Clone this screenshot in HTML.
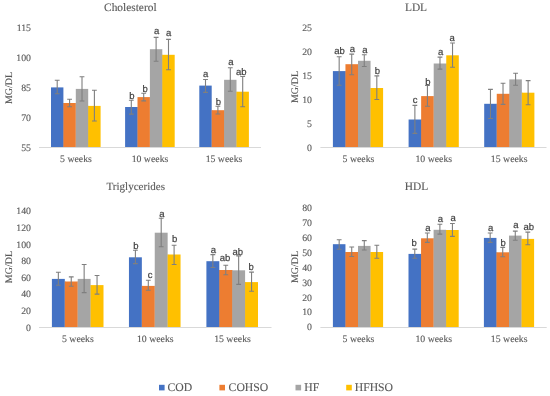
<!DOCTYPE html>
<html><head><meta charset="utf-8"><style>
html,body{margin:0;padding:0;background:#fff;}
body{width:550px;height:396px;overflow:hidden;font-family:"Liberation Serif", serif;}
svg{display:block;}
text{text-rendering:geometricPrecision;font-family:"Liberation Serif",serif;fill:#595959;stroke:#595959;stroke-width:0.12;}
.t{font-size:11.4px;text-anchor:middle;}
.k{font-size:9.8px;text-anchor:end;}
.y{font-size:10px;text-anchor:middle;}
.x{font-size:9.8px;text-anchor:middle;}
.l{font-size:11.7px;}
.d{font-family:"Liberation Sans",sans-serif;font-size:9.5px;fill:#404040;stroke:#404040;stroke-width:0.2;text-anchor:middle;}
</style></head><body>
<svg width="550" height="396" viewBox="0 0 550 396" style="will-change:transform;filter:blur(0.3px)">
<rect width="550" height="396" fill="#fff"/>
<rect x="39" y="147" width="222" height="1" fill="#D9D9D9"/>
<text x="130.3" y="10.9" class="t">Cholesterol</text>
<text x="31" y="30.81" class="k">115</text>
<text x="31" y="60.81" class="k">100</text>
<text x="31" y="90.81" class="k">85</text>
<text x="31" y="120.81" class="k">70</text>
<text x="31" y="150.81" class="k">55</text>
<text transform="translate(12,88) rotate(-90)" class="y">MG/DL</text>
<text x="76" y="162.3" class="x">5 weeks</text>
<text x="150" y="162.3" class="x">10 weeks</text>
<text x="224" y="162.3" class="x">15 weeks</text>
<rect x="51" y="87.4" width="12.4" height="59.6" fill="#4472C4"/>
<rect x="63.3" y="103" width="0.8" height="44" fill="#4472C4"/>
<rect x="63.4" y="103" width="12.4" height="44" fill="#ED7D31"/>
<rect x="75.7" y="103" width="0.8" height="44" fill="#ED7D31"/>
<rect x="75.8" y="88.9" width="12.4" height="58.1" fill="#A5A5A5"/>
<rect x="88.1" y="105.9" width="0.8" height="41.1" fill="#A5A5A5"/>
<rect x="88.2" y="105.9" width="12.4" height="41.1" fill="#FFC000"/>
<rect x="125.1" y="107" width="12.4" height="40" fill="#4472C4"/>
<rect x="137.4" y="107" width="0.8" height="40" fill="#4472C4"/>
<rect x="137.5" y="97.1" width="12.4" height="49.9" fill="#ED7D31"/>
<rect x="149.8" y="97.1" width="0.8" height="49.9" fill="#ED7D31"/>
<rect x="149.9" y="49.2" width="12.4" height="97.8" fill="#A5A5A5"/>
<rect x="162.2" y="54.8" width="0.8" height="92.2" fill="#A5A5A5"/>
<rect x="162.3" y="54.8" width="12.4" height="92.2" fill="#FFC000"/>
<rect x="199.3" y="85.6" width="12.4" height="61.4" fill="#4472C4"/>
<rect x="211.6" y="110.2" width="0.8" height="36.8" fill="#4472C4"/>
<rect x="211.7" y="110.2" width="12.4" height="36.8" fill="#ED7D31"/>
<rect x="224" y="110.2" width="0.8" height="36.8" fill="#ED7D31"/>
<rect x="224.1" y="79.8" width="12.4" height="67.2" fill="#A5A5A5"/>
<rect x="236.4" y="91.7" width="0.8" height="55.3" fill="#A5A5A5"/>
<rect x="236.5" y="91.7" width="12.4" height="55.3" fill="#FFC000"/>
<path d="M57.2 80.3V93.8M54.8 80.3H59.6M54.8 93.8H59.6" stroke="#7F7F7F" stroke-width="1.1" fill="none"/>
<path d="M69.6 99.2V106.8M67.2 99.2H72M67.2 106.8H72" stroke="#7F7F7F" stroke-width="1.1" fill="none"/>
<path d="M82 76.8V101M79.6 76.8H84.4M79.6 101H84.4" stroke="#7F7F7F" stroke-width="1.1" fill="none"/>
<path d="M94.4 90.2V121M92 90.2H96.8M92 121H96.8" stroke="#7F7F7F" stroke-width="1.1" fill="none"/>
<path d="M131.3 100.2V114.1M128.9 100.2H133.7M128.9 114.1H133.7" stroke="#7F7F7F" stroke-width="1.1" fill="none"/>
<text x="131.8" y="98.5" class="d">b</text>
<path d="M143.7 93.3V100.9M141.3 93.3H146.1M141.3 100.9H146.1" stroke="#7F7F7F" stroke-width="1.1" fill="none"/>
<text x="145.1" y="91.9" class="d">b</text>
<path d="M156.1 37.4V61.2M153.7 37.4H158.5M153.7 61.2H158.5" stroke="#7F7F7F" stroke-width="1.1" fill="none"/>
<text x="156.7" y="34" class="d">a</text>
<path d="M168.5 39.4V69.7M166.1 39.4H170.9M166.1 69.7H170.9" stroke="#7F7F7F" stroke-width="1.1" fill="none"/>
<text x="168.6" y="35.9" class="d">a</text>
<path d="M205.5 79.5V92.4M203.1 79.5H207.9M203.1 92.4H207.9" stroke="#7F7F7F" stroke-width="1.1" fill="none"/>
<text x="205.6" y="77.2" class="d">a</text>
<path d="M217.9 106.2V114M215.5 106.2H220.3M215.5 114H220.3" stroke="#7F7F7F" stroke-width="1.1" fill="none"/>
<text x="218.4" y="105.2" class="d">b</text>
<path d="M230.3 67.7V91.2M227.9 67.7H232.7M227.9 91.2H232.7" stroke="#7F7F7F" stroke-width="1.1" fill="none"/>
<text x="230.9" y="65.2" class="d">a</text>
<path d="M242.7 76.5V106.8M240.3 76.5H245.1M240.3 106.8H245.1" stroke="#7F7F7F" stroke-width="1.1" fill="none"/>
<text x="241.3" y="75" class="d">ab</text>
<rect x="320.4" y="147" width="226.1" height="1" fill="#D9D9D9"/>
<text x="416" y="10.9" class="t">LDL</text>
<text x="312" y="30.91" class="k">25</text>
<text x="312" y="54.81" class="k">20</text>
<text x="312" y="78.81" class="k">15</text>
<text x="312" y="102.81" class="k">10</text>
<text x="312" y="126.81" class="k">5</text>
<text x="312" y="150.81" class="k">0</text>
<text transform="translate(298.1,87) rotate(-90)" class="y">MG/DL</text>
<text x="358.5" y="162.3" class="x">5 weeks</text>
<text x="433.8" y="162.3" class="x">10 weeks</text>
<text x="509.2" y="162.3" class="x">15 weeks</text>
<rect x="332.9" y="71.1" width="12.55" height="75.9" fill="#4472C4"/>
<rect x="345.35" y="71.1" width="0.8" height="75.9" fill="#4472C4"/>
<rect x="345.45" y="64.2" width="12.55" height="82.8" fill="#ED7D31"/>
<rect x="357.9" y="64.2" width="0.8" height="82.8" fill="#ED7D31"/>
<rect x="358" y="60.8" width="12.55" height="86.2" fill="#A5A5A5"/>
<rect x="370.45" y="88" width="0.8" height="59" fill="#A5A5A5"/>
<rect x="370.55" y="88" width="12.55" height="59" fill="#FFC000"/>
<rect x="408.6" y="119.5" width="12.55" height="27.5" fill="#4472C4"/>
<rect x="421.05" y="119.5" width="0.8" height="27.5" fill="#4472C4"/>
<rect x="421.15" y="96.1" width="12.55" height="50.9" fill="#ED7D31"/>
<rect x="433.6" y="96.1" width="0.8" height="50.9" fill="#ED7D31"/>
<rect x="433.7" y="63.5" width="12.55" height="83.5" fill="#A5A5A5"/>
<rect x="446.15" y="63.5" width="0.8" height="83.5" fill="#A5A5A5"/>
<rect x="446.25" y="55.3" width="12.55" height="91.7" fill="#FFC000"/>
<rect x="484.2" y="103.8" width="12.55" height="43.2" fill="#4472C4"/>
<rect x="496.65" y="103.8" width="0.8" height="43.2" fill="#4472C4"/>
<rect x="496.75" y="93.8" width="12.55" height="53.2" fill="#ED7D31"/>
<rect x="509.2" y="93.8" width="0.8" height="53.2" fill="#ED7D31"/>
<rect x="509.3" y="79.4" width="12.55" height="67.6" fill="#A5A5A5"/>
<rect x="521.75" y="92.7" width="0.8" height="54.3" fill="#A5A5A5"/>
<rect x="521.85" y="92.7" width="12.55" height="54.3" fill="#FFC000"/>
<path d="M339.17 56.7V85.2M336.77 56.7H341.57M336.77 85.2H341.57" stroke="#7F7F7F" stroke-width="1.1" fill="none"/>
<text x="339.47" y="53.6" class="d">ab</text>
<path d="M351.72 54.1V74.8M349.32 54.1H354.12M349.32 74.8H354.12" stroke="#7F7F7F" stroke-width="1.1" fill="none"/>
<text x="352.32" y="51.8" class="d">a</text>
<path d="M364.27 54.7V66.5M361.88 54.7H366.67M361.88 66.5H366.67" stroke="#7F7F7F" stroke-width="1.1" fill="none"/>
<text x="364.88" y="52.6" class="d">a</text>
<path d="M376.82 75.9V99.5M374.43 75.9H379.22M374.43 99.5H379.22" stroke="#7F7F7F" stroke-width="1.1" fill="none"/>
<text x="377.32" y="74.4" class="d">b</text>
<path d="M414.88 105.4V133.4M412.48 105.4H417.27M412.48 133.4H417.27" stroke="#7F7F7F" stroke-width="1.1" fill="none"/>
<text x="415.18" y="103.1" class="d">c</text>
<path d="M427.43 85.5V106.2M425.03 85.5H429.82M425.03 106.2H429.82" stroke="#7F7F7F" stroke-width="1.1" fill="none"/>
<text x="427.93" y="84.8" class="d">b</text>
<path d="M439.98 57.1V69.1M437.58 57.1H442.38M437.58 69.1H442.38" stroke="#7F7F7F" stroke-width="1.1" fill="none"/>
<text x="440.58" y="54.6" class="d">a</text>
<path d="M452.53 43V67.2M450.13 43H454.93M450.13 67.2H454.93" stroke="#7F7F7F" stroke-width="1.1" fill="none"/>
<text x="452.23" y="41.1" class="d">a</text>
<path d="M490.47 89.4V118.5M488.07 89.4H492.87M488.07 118.5H492.87" stroke="#7F7F7F" stroke-width="1.1" fill="none"/>
<path d="M503.02 83.3V104.4M500.62 83.3H505.42M500.62 104.4H505.42" stroke="#7F7F7F" stroke-width="1.1" fill="none"/>
<path d="M515.58 73.3V85.2M513.18 73.3H517.98M513.18 85.2H517.98" stroke="#7F7F7F" stroke-width="1.1" fill="none"/>
<path d="M528.12 80.6V104.8M525.73 80.6H530.52M525.73 104.8H530.52" stroke="#7F7F7F" stroke-width="1.1" fill="none"/>
<rect x="39" y="327" width="232.5" height="1" fill="#D9D9D9"/>
<text x="135.7" y="190.3" class="t" style="font-size:11.05px">Triglycerides</text>
<text x="31" y="214.41" class="k">140</text>
<text x="31" y="231.03" class="k">120</text>
<text x="31" y="247.64" class="k">100</text>
<text x="31" y="264.26" class="k">80</text>
<text x="31" y="280.87" class="k">60</text>
<text x="31" y="297.48" class="k">40</text>
<text x="31" y="314.1" class="k">20</text>
<text x="31" y="330.71" class="k">0</text>
<text transform="translate(12.2,267.1) rotate(-90)" class="y">MG/DL</text>
<text x="77.9" y="342" class="x">5 weeks</text>
<text x="155.3" y="342" class="x">10 weeks</text>
<text x="232.5" y="342" class="x">15 weeks</text>
<rect x="51.9" y="278.9" width="12.9" height="48.1" fill="#4472C4"/>
<rect x="64.7" y="281.5" width="0.8" height="45.5" fill="#4472C4"/>
<rect x="64.8" y="281.5" width="12.9" height="45.5" fill="#ED7D31"/>
<rect x="77.6" y="281.5" width="0.8" height="45.5" fill="#ED7D31"/>
<rect x="77.7" y="278.9" width="12.9" height="48.1" fill="#A5A5A5"/>
<rect x="90.5" y="285.1" width="0.8" height="41.9" fill="#A5A5A5"/>
<rect x="90.6" y="285.1" width="12.9" height="41.9" fill="#FFC000"/>
<rect x="128.95" y="257.3" width="12.9" height="69.7" fill="#4472C4"/>
<rect x="141.75" y="285.9" width="0.8" height="41.1" fill="#4472C4"/>
<rect x="141.85" y="285.9" width="12.9" height="41.1" fill="#ED7D31"/>
<rect x="154.65" y="285.9" width="0.8" height="41.1" fill="#ED7D31"/>
<rect x="154.75" y="232.7" width="12.9" height="94.3" fill="#A5A5A5"/>
<rect x="167.55" y="254.5" width="0.8" height="72.5" fill="#A5A5A5"/>
<rect x="167.65" y="254.5" width="12.9" height="72.5" fill="#FFC000"/>
<rect x="206.4" y="261.2" width="12.9" height="65.8" fill="#4472C4"/>
<rect x="219.2" y="270" width="0.8" height="57" fill="#4472C4"/>
<rect x="219.3" y="270" width="12.9" height="57" fill="#ED7D31"/>
<rect x="232.1" y="270.3" width="0.8" height="56.7" fill="#ED7D31"/>
<rect x="232.2" y="270.3" width="12.9" height="56.7" fill="#A5A5A5"/>
<rect x="245" y="282.1" width="0.8" height="44.9" fill="#A5A5A5"/>
<rect x="245.1" y="282.1" width="12.9" height="44.9" fill="#FFC000"/>
<path d="M58.35 272.2V285.3M55.95 272.2H60.75M55.95 285.3H60.75" stroke="#7F7F7F" stroke-width="1.1" fill="none"/>
<path d="M71.25 276.9V286.3M68.85 276.9H73.65M68.85 286.3H73.65" stroke="#7F7F7F" stroke-width="1.1" fill="none"/>
<path d="M84.15 264.5V292.6M81.75 264.5H86.55M81.75 292.6H86.55" stroke="#7F7F7F" stroke-width="1.1" fill="none"/>
<path d="M97.05 275.5V294.1M94.65 275.5H99.45M94.65 294.1H99.45" stroke="#7F7F7F" stroke-width="1.1" fill="none"/>
<path d="M135.4 250.2V263.6M133 250.2H137.8M133 263.6H137.8" stroke="#7F7F7F" stroke-width="1.1" fill="none"/>
<text x="135.9" y="249.4" class="d">b</text>
<path d="M148.3 280.3V290.2M145.9 280.3H150.7M145.9 290.2H150.7" stroke="#7F7F7F" stroke-width="1.1" fill="none"/>
<text x="150.2" y="278.3" class="d">c</text>
<path d="M161.2 218.3V246.7M158.8 218.3H163.6M158.8 246.7H163.6" stroke="#7F7F7F" stroke-width="1.1" fill="none"/>
<text x="161.8" y="217.1" class="d">a</text>
<path d="M174.1 245.2V264.5M171.7 245.2H176.5M171.7 264.5H176.5" stroke="#7F7F7F" stroke-width="1.1" fill="none"/>
<text x="174.6" y="241.8" class="d">b</text>
<path d="M212.85 254.6V267.5M210.45 254.6H215.25M210.45 267.5H215.25" stroke="#7F7F7F" stroke-width="1.1" fill="none"/>
<text x="213.45" y="252.6" class="d">a</text>
<path d="M225.75 265.3V274.8M223.35 265.3H228.15M223.35 274.8H228.15" stroke="#7F7F7F" stroke-width="1.1" fill="none"/>
<text x="224.95" y="261.2" class="d">ab</text>
<path d="M238.65 255.9V284.4M236.25 255.9H241.05M236.25 284.4H241.05" stroke="#7F7F7F" stroke-width="1.1" fill="none"/>
<text x="237.85" y="254.7" class="d">ab</text>
<path d="M251.55 272.1V291.2M249.15 272.1H253.95M249.15 291.2H253.95" stroke="#7F7F7F" stroke-width="1.1" fill="none"/>
<text x="251.15" y="270.3" class="d">b</text>
<rect x="320.4" y="327" width="226.3" height="1" fill="#D9D9D9"/>
<text x="416.5" y="190.2" class="t">HDL</text>
<text x="312" y="210.81" class="k">80</text>
<text x="312" y="225.71" class="k">70</text>
<text x="312" y="240.71" class="k">60</text>
<text x="312" y="255.61" class="k">50</text>
<text x="312" y="270.61" class="k">40</text>
<text x="312" y="285.51" class="k">30</text>
<text x="312" y="300.51" class="k">20</text>
<text x="312" y="315.41" class="k">10</text>
<text x="312" y="330.41" class="k">0</text>
<text transform="translate(297.9,267) rotate(-90)" class="y">MG/DL</text>
<text x="358.5" y="342" class="x">5 weeks</text>
<text x="433.8" y="342" class="x">10 weeks</text>
<text x="509.2" y="342" class="x">15 weeks</text>
<rect x="332.9" y="244.2" width="12.55" height="82.8" fill="#4472C4"/>
<rect x="345.35" y="252" width="0.8" height="75" fill="#4472C4"/>
<rect x="345.45" y="252" width="12.55" height="75" fill="#ED7D31"/>
<rect x="357.9" y="252" width="0.8" height="75" fill="#ED7D31"/>
<rect x="358" y="245.9" width="12.55" height="81.1" fill="#A5A5A5"/>
<rect x="370.45" y="252" width="0.8" height="75" fill="#A5A5A5"/>
<rect x="370.55" y="252" width="12.55" height="75" fill="#FFC000"/>
<rect x="408.5" y="253.9" width="12.55" height="73.1" fill="#4472C4"/>
<rect x="420.95" y="253.9" width="0.8" height="73.1" fill="#4472C4"/>
<rect x="421.05" y="238.3" width="12.55" height="88.7" fill="#ED7D31"/>
<rect x="433.5" y="238.3" width="0.8" height="88.7" fill="#ED7D31"/>
<rect x="433.6" y="229.8" width="12.55" height="97.2" fill="#A5A5A5"/>
<rect x="446.05" y="230" width="0.8" height="97" fill="#A5A5A5"/>
<rect x="446.15" y="230" width="12.55" height="97" fill="#FFC000"/>
<rect x="483.9" y="237.9" width="12.55" height="89.1" fill="#4472C4"/>
<rect x="496.35" y="252.3" width="0.8" height="74.7" fill="#4472C4"/>
<rect x="496.45" y="252.3" width="12.55" height="74.7" fill="#ED7D31"/>
<rect x="508.9" y="252.3" width="0.8" height="74.7" fill="#ED7D31"/>
<rect x="509" y="235.6" width="12.55" height="91.4" fill="#A5A5A5"/>
<rect x="521.45" y="238.9" width="0.8" height="88.1" fill="#A5A5A5"/>
<rect x="521.55" y="238.9" width="12.55" height="88.1" fill="#FFC000"/>
<path d="M339.17 239.7V249.2M336.77 239.7H341.57M336.77 249.2H341.57" stroke="#7F7F7F" stroke-width="1.1" fill="none"/>
<path d="M351.72 247V256.5M349.32 247H354.12M349.32 256.5H354.12" stroke="#7F7F7F" stroke-width="1.1" fill="none"/>
<path d="M364.27 240.6V250M361.88 240.6H366.67M361.88 250H366.67" stroke="#7F7F7F" stroke-width="1.1" fill="none"/>
<path d="M376.82 245.2V258.3M374.43 245.2H379.22M374.43 258.3H379.22" stroke="#7F7F7F" stroke-width="1.1" fill="none"/>
<path d="M414.77 249.1V258.3M412.38 249.1H417.17M412.38 258.3H417.17" stroke="#7F7F7F" stroke-width="1.1" fill="none"/>
<text x="414.17" y="246.1" class="d">b</text>
<path d="M427.32 233V242.4M424.93 233H429.72M424.93 242.4H429.72" stroke="#7F7F7F" stroke-width="1.1" fill="none"/>
<text x="427.93" y="231.1" class="d">a</text>
<path d="M439.88 224.2V234.1M437.48 224.2H442.27M437.48 234.1H442.27" stroke="#7F7F7F" stroke-width="1.1" fill="none"/>
<text x="440.48" y="222" class="d">a</text>
<path d="M452.43 223.5V236.4M450.03 223.5H454.82M450.03 236.4H454.82" stroke="#7F7F7F" stroke-width="1.1" fill="none"/>
<text x="453.03" y="221.2" class="d">a</text>
<path d="M490.17 233V242.4M487.77 233H492.57M487.77 242.4H492.57" stroke="#7F7F7F" stroke-width="1.1" fill="none"/>
<text x="490.77" y="230.8" class="d">a</text>
<path d="M502.72 247.4V256.8M500.32 247.4H505.12M500.32 256.8H505.12" stroke="#7F7F7F" stroke-width="1.1" fill="none"/>
<text x="503.22" y="245.5" class="d">b</text>
<path d="M515.27 231.1V240.2M512.88 231.1H517.67M512.88 240.2H517.67" stroke="#7F7F7F" stroke-width="1.1" fill="none"/>
<text x="515.88" y="228" class="d">a</text>
<path d="M527.82 232.1V244.7M525.42 232.1H530.22M525.42 244.7H530.22" stroke="#7F7F7F" stroke-width="1.1" fill="none"/>
<text x="528.82" y="229.5" class="d">ab</text>
<rect x="159" y="384.8" width="5.6" height="5.6" fill="#4472C4"/>
<text x="167.4" y="390.8" class="l">COD</text>
<rect x="219.4" y="384.8" width="5.6" height="5.6" fill="#ED7D31"/>
<text x="228.6" y="390.8" class="l">COHSO</text>
<rect x="295.5" y="384.8" width="5.6" height="5.6" fill="#A5A5A5"/>
<text x="304.2" y="390.8" class="l">HF</text>
<rect x="346.2" y="384.8" width="5.6" height="5.6" fill="#FFC000"/>
<text x="354.7" y="390.8" class="l">HFHSO</text>
</svg>
</body></html>
